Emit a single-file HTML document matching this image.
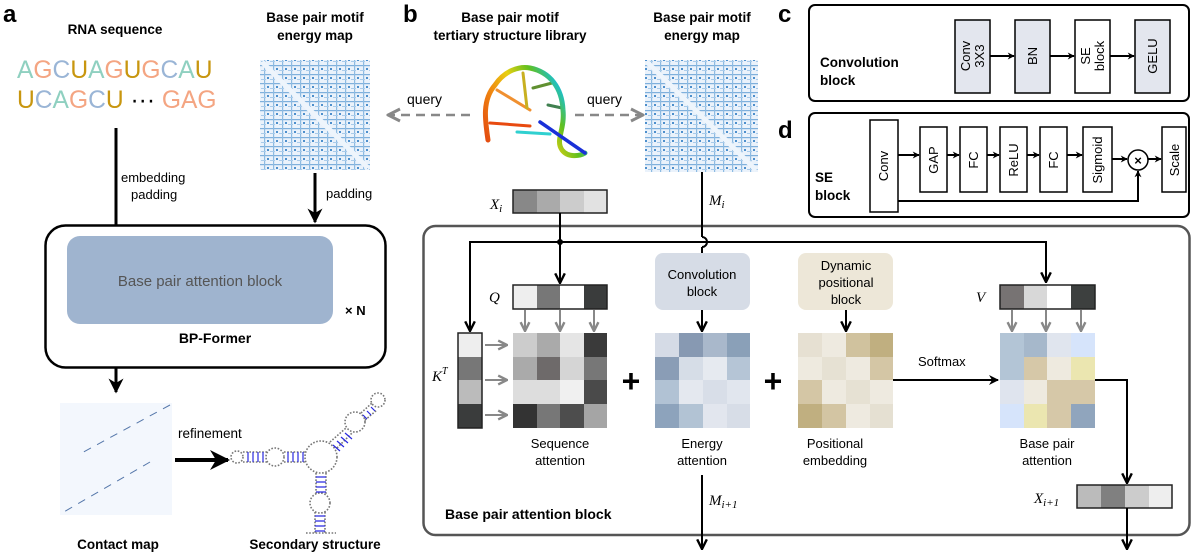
<!DOCTYPE html>
<html><head><meta charset="utf-8"><style>
html,body{margin:0;padding:0;background:#fff;}
svg{display:block;font-family:"Liberation Sans",sans-serif;}
.b{font-weight:bold;}
.m{font-family:"Liberation Serif",serif;font-style:italic;}
</style></head><body>
<svg width="1200" height="553" viewBox="0 0 1200 553" xmlns="http://www.w3.org/2000/svg">
<defs>
<marker id="ah" viewBox="0 0 10 10" refX="9" refY="5" markerWidth="5" markerHeight="5" orient="auto"><path d="M0,0 L10,5 L0,10 L3,5z" fill="#000"/></marker>
<marker id="ahb" viewBox="0 0 10 10" refX="9" refY="5" markerWidth="3.5" markerHeight="3.5" orient="auto"><path d="M0,0 L10,5 L0,10 L3,5z" fill="#000"/></marker>
<marker id="ag" viewBox="0 0 10 10" refX="9" refY="5" markerWidth="6" markerHeight="6" orient="auto"><path d="M1,1 L9,5 L1,9" fill="none" stroke="#888" stroke-width="2"/></marker>
<marker id="ao" viewBox="0 0 10 10" refX="9" refY="5" markerWidth="5.5" markerHeight="5.5" orient="auto"><path d="M1,1 L9,5 L1,9" fill="none" stroke="#888" stroke-width="2.2"/></marker>
<marker id="ak" viewBox="0 0 10 10" refX="9" refY="5" markerWidth="6" markerHeight="6" orient="auto"><path d="M1,1 L9,5 L1,9" fill="none" stroke="#000" stroke-width="2"/></marker>
<pattern id="emap" width="9" height="9" patternUnits="userSpaceOnUse">
<rect width="9" height="9" fill="#eaf2fb"/>
<rect x="0" y="2" width="9" height="1.2" fill="#7fb0dc"/>
<rect x="3" y="0" width="1.2" height="9" fill="#8dbbe2"/>
<rect x="6" y="5" width="2" height="2" fill="#4d8fcc"/>
<rect x="0" y="7" width="5" height="1" fill="#a9cbea"/>
</pattern>
<linearGradient id="rg" x1="0" y1="1" x2="1" y2="0.5">
<stop offset="0" stop-color="#e03a10"/><stop offset="0.35" stop-color="#f08a10"/><stop offset="0.55" stop-color="#e8d010"/><stop offset="0.75" stop-color="#60c020"/><stop offset="0.9" stop-color="#20c0c0"/><stop offset="1" stop-color="#2030d0"/>
</linearGradient>
</defs>

<!-- panel a -->
<text x="3" y="22" font-size="24" class="b">a</text>
<text x="115" y="34" font-size="13.5" class="b" text-anchor="middle">RNA sequence</text>
<text x="17" y="78" font-size="24.6"><tspan fill="#8fd0c0">A</tspan><tspan fill="#f4a582">G</tspan><tspan fill="#9ab5d6">C</tspan><tspan fill="#c8960f">U</tspan><tspan fill="#8fd0c0">A</tspan><tspan fill="#f4a582">G</tspan><tspan fill="#c8960f">U</tspan><tspan fill="#f4a582">G</tspan><tspan fill="#9ab5d6">C</tspan><tspan fill="#8fd0c0">A</tspan><tspan fill="#c8960f">U</tspan></text>
<text x="17" y="108" font-size="24.6"><tspan fill="#c8960f">U</tspan><tspan fill="#9ab5d6">C</tspan><tspan fill="#8fd0c0">A</tspan><tspan fill="#f4a582">G</tspan><tspan fill="#9ab5d6">C</tspan><tspan fill="#c8960f">U</tspan><tspan fill="#000"> ··· </tspan><tspan fill="#f4a582">GAG</tspan></text>
<text x="315" y="22" font-size="13.5" class="b" text-anchor="middle">Base pair motif</text>
<text x="315" y="40" font-size="13.5" class="b" text-anchor="middle">energy map</text>
<rect x="260" y="60" width="110" height="110" fill="url(#emap)"/>
<line x1="262" y1="62" x2="368" y2="168" stroke="#eef5fc" stroke-width="5"/>
<line x1="116" y1="128" x2="116" y2="226" stroke="#000" stroke-width="3"/>
<text x="121" y="182" font-size="13">embedding</text>
<text x="131" y="199" font-size="13">padding</text>
<line x1="315" y1="173" x2="315" y2="222" stroke="#000" stroke-width="3" marker-end="url(#ah)"/>
<text x="326" y="198" font-size="13">padding</text>
<rect x="45.5" y="225.5" width="340" height="142" rx="20" fill="none" stroke="#000" stroke-width="2.5"/>
<rect x="67" y="236" width="266" height="88" rx="13" fill="#9fb4cf"/>
<text x="200" y="286" font-size="15" fill="#555" text-anchor="middle">Base pair attention block</text>
<text x="345" y="315" font-size="13" class="b">× N</text>
<text x="215" y="343" font-size="14" class="b" text-anchor="middle">BP-Former</text>
<line x1="116" y1="368" x2="116" y2="392" stroke="#000" stroke-width="3" marker-end="url(#ah)"/>
<rect x="60" y="403" width="112" height="112" fill="#f3f7fd"/>
<g stroke="#5577aa" stroke-width="1" stroke-dasharray="8,7"><line x1="170" y1="405" x2="78" y2="455"/><line x1="150" y1="462" x2="62" y2="513"/></g>
<text x="178" y="438" font-size="13.5">refinement</text>
<line x1="175" y1="460" x2="228" y2="460" stroke="#000" stroke-width="4" marker-end="url(#ah)"/>
<!-- secondary structure -->
<g fill="none" stroke="#777" stroke-width="1.6" stroke-dasharray="1.6,1.6">
<circle cx="237" cy="457" r="6"/><circle cx="275" cy="457" r="9"/><circle cx="321" cy="457" r="16"/>
<circle cx="320" cy="503" r="10"/><circle cx="355" cy="422" r="10"/><circle cx="378" cy="400" r="7"/>
<path d="M243,452 H267 M243,462 H267 M284,452 H306 M284,462 H306"/>
<path d="M316,473 V494 M326,473 V494 M315,512 V533 M325,512 V533 M306,533 H336"/>
<path d="M330,442 L346,428 M337,448 L352,433 M361,413 L372,403 M365,420 L377,410"/>
</g>
<g stroke="#2a2ae0" stroke-width="1.2">
<path d="M248,452V462 M253,452V462 M258,452V462 M263,452V462 M288,452V462 M293,452V462 M298,452V462 M303,452V462"/>
<path d="M316,477H326 M316,482H326 M316,487H326 M316,492H326 M315,516H325 M315,521H325 M315,526H325 M315,531H325"/>
<path d="M333,445L340,451 M337,441L344,447 M341,437L348,443 M345,433L352,439 M363,415L367,419 M367,411L371,415 M371,407L375,411"/>
</g>
<text x="118" y="549" font-size="13.5" class="b" text-anchor="middle">Contact map</text>
<text x="315" y="549" font-size="13.5" class="b" text-anchor="middle">Secondary structure</text>

<!-- panel b top -->
<text x="403" y="22" font-size="24" class="b">b</text>
<text x="510" y="22" font-size="13.5" class="b" text-anchor="middle">Base pair motif</text>
<text x="510" y="40" font-size="13.5" class="b" text-anchor="middle">tertiary structure library</text>
<text x="702" y="22" font-size="13.5" class="b" text-anchor="middle">Base pair motif</text>
<text x="702" y="40" font-size="13.5" class="b" text-anchor="middle">energy map</text>
<rect x="645" y="60" width="113" height="112" fill="url(#emap)"/>
<line x1="647" y1="62" x2="756" y2="170" stroke="#eef5fc" stroke-width="5"/>
<!-- 3d rna -->
<g fill="none" stroke-linecap="round">
<line x1="490" y1="123" x2="530" y2="126" stroke="#e84a10" stroke-width="3"/>
<line x1="497" y1="90" x2="530" y2="110" stroke="#f09030" stroke-width="3"/>
<line x1="523" y1="73" x2="527" y2="108" stroke="#c8b020" stroke-width="3"/>
<line x1="533" y1="88" x2="552" y2="83" stroke="#609030" stroke-width="3"/>
<line x1="548" y1="105" x2="562" y2="108" stroke="#408050" stroke-width="3"/>
<line x1="517" y1="132" x2="550" y2="134" stroke="#30d0d0" stroke-width="3"/>
<path d="M488,140 C485,120 482,100 495,85 C505,70 520,66 530,68 C550,72 562,88 563,110 C565,130 555,140 562,150 C568,158 580,156 585,153" stroke="url(#rg)" stroke-width="5"/>
<line x1="540" y1="122" x2="585" y2="153" stroke="#1a30d8" stroke-width="3.5"/>
</g>
<line x1="470" y1="115" x2="388" y2="115" stroke="#888" stroke-width="2.5" stroke-dasharray="9,6" marker-end="url(#ag)"/>
<text x="407" y="104" font-size="14">query</text>
<line x1="575" y1="115" x2="643" y2="115" stroke="#888" stroke-width="2.5" stroke-dasharray="9,6" marker-end="url(#ag)"/>
<text x="587" y="104" font-size="14">query</text>

<!-- big block -->
<rect x="423.5" y="226" width="766" height="309" rx="12" fill="none" stroke="#555" stroke-width="2.5"/>
<text x="445" y="519" font-size="14" class="b">Base pair attention block</text>
<!-- Xi -->
<text x="490" y="209" font-size="15" class="m">X<tspan font-size="11" dy="3">i</tspan></text>
<g stroke="none"><rect x="513" y="190" width="24" height="23" fill="#888"/><rect x="537" y="190" width="23" height="23" fill="#aaa"/><rect x="560" y="190" width="24" height="23" fill="#ccc"/><rect x="584" y="190" width="23" height="23" fill="#e2e2e2"/></g>
<rect x="513" y="190" width="94" height="23" fill="none" stroke="#222" stroke-width="1.5"/>
<!-- Mi -->
<line x1="702" y1="172" x2="702" y2="237" stroke="#000" stroke-width="2"/>
<path d="M702,237 a5,5 0 0 1 0,10" fill="none" stroke="#000" stroke-width="2"/>
<line x1="702" y1="247" x2="702" y2="253" stroke="#000" stroke-width="2"/>
<text x="709" y="205" font-size="15" class="m">M<tspan font-size="11" dy="3">i</tspan></text>
<!-- wires -->
<line x1="560" y1="213" x2="560" y2="242" stroke="#000" stroke-width="2"/>
<circle cx="560" cy="242" r="3" fill="#000"/>
<path d="M470,330 V242 H1046 V282" fill="none" stroke="#000" stroke-width="2" marker-end="url(#ak)"/>
<line x1="470" y1="300" x2="470" y2="331" stroke="#000" stroke-width="2" marker-end="url(#ak)"/>
<line x1="560" y1="242" x2="560" y2="283" stroke="#000" stroke-width="2" marker-end="url(#ak)"/>
<!-- Q -->
<text x="489" y="302" font-size="15" class="m">Q</text>
<rect x="513" y="285" width="24" height="24" fill="#eee"/><rect x="537" y="285" width="23" height="24" fill="#777"/><rect x="560" y="285" width="24" height="24" fill="#fff"/><rect x="584" y="285" width="23" height="24" fill="#3a3c3c"/>
<rect x="513" y="285" width="94" height="24" fill="none" stroke="#222" stroke-width="1.5"/>
<g stroke="#888" stroke-width="2" marker-end="url(#ao)"><line x1="525" y1="310" x2="525" y2="331"/><line x1="560" y1="310" x2="560" y2="331"/><line x1="594" y1="310" x2="594" y2="331"/></g>
<!-- K^T -->
<text x="432" y="381" font-size="15" class="m">K<tspan font-size="10" dy="-7">T</tspan></text>
<rect x="458" y="333" width="24" height="24" fill="#eee"/><rect x="458" y="357" width="24" height="23" fill="#777"/><rect x="458" y="380" width="24" height="24" fill="#bbb"/><rect x="458" y="404" width="24" height="24" fill="#3a3c3c"/>
<rect x="458" y="333" width="24" height="95" fill="none" stroke="#222" stroke-width="1.5"/>
<g stroke="#888" stroke-width="2" marker-end="url(#ao)"><line x1="485" y1="345" x2="507" y2="345"/><line x1="485" y1="380" x2="507" y2="380"/><line x1="485" y1="415" x2="507" y2="415"/></g>
<!-- seq attention -->
<g>
<rect x="513" y="333" width="24" height="24" fill="#ccc"/><rect x="537" y="333" width="23" height="24" fill="#aaa"/><rect x="560" y="333" width="24" height="24" fill="#e5e5e5"/><rect x="584" y="333" width="23" height="24" fill="#3a3a3a"/>
<rect x="513" y="357" width="24" height="23" fill="#aaa"/><rect x="537" y="357" width="23" height="23" fill="#6e6a6a"/><rect x="560" y="357" width="24" height="23" fill="#d5d5d5"/><rect x="584" y="357" width="23" height="23" fill="#777"/>
<rect x="513" y="380" width="24" height="24" fill="#ddd"/><rect x="537" y="380" width="23" height="24" fill="#ddd"/><rect x="560" y="380" width="24" height="24" fill="#f0f0f0"/><rect x="584" y="380" width="23" height="24" fill="#4a4a4a"/>
<rect x="513" y="404" width="24" height="24" fill="#333"/><rect x="537" y="404" width="23" height="24" fill="#777"/><rect x="560" y="404" width="24" height="24" fill="#4d4d4d"/><rect x="584" y="404" width="23" height="24" fill="#a5a5a5"/>
</g>
<text x="560" y="448" font-size="13" text-anchor="middle">Sequence</text>
<text x="560" y="465" font-size="13" text-anchor="middle">attention</text>
<text x="631" y="392" font-size="32" class="b" text-anchor="middle">+</text>
<!-- conv block -->
<rect x="655" y="253" width="95" height="57" rx="8" fill="#d6dce6"/>
<text x="702" y="279" font-size="13" text-anchor="middle">Convolution</text>
<text x="702" y="296" font-size="13" text-anchor="middle">block</text>
<line x1="702" y1="310" x2="702" y2="331" stroke="#000" stroke-width="2" marker-end="url(#ak)"/>
<g>
<rect x="655" y="333" width="24" height="24" fill="#d5dbe6"/><rect x="679" y="333" width="24" height="24" fill="#8799b2"/><rect x="703" y="333" width="24" height="24" fill="#a9b8cb"/><rect x="727" y="333" width="23" height="24" fill="#8aa0b8"/>
<rect x="655" y="357" width="24" height="23" fill="#8a9db6"/><rect x="679" y="357" width="24" height="23" fill="#d6dde7"/><rect x="703" y="357" width="24" height="23" fill="#e6eaf0"/><rect x="727" y="357" width="23" height="23" fill="#b5c5d6"/>
<rect x="655" y="380" width="24" height="24" fill="#b1c2d4"/><rect x="679" y="380" width="24" height="24" fill="#e4e8ef"/><rect x="703" y="380" width="24" height="24" fill="#d8dee8"/><rect x="727" y="380" width="23" height="24" fill="#e1e6ee"/>
<rect x="655" y="404" width="24" height="24" fill="#8da3bc"/><rect x="679" y="404" width="24" height="24" fill="#b2c3d4"/><rect x="703" y="404" width="24" height="24" fill="#e2e6ee"/><rect x="727" y="404" width="23" height="24" fill="#d7dde7"/>
</g>
<text x="702" y="448" font-size="13" text-anchor="middle">Energy</text>
<text x="702" y="465" font-size="13" text-anchor="middle">attention</text>
<line x1="702" y1="475" x2="702" y2="549" stroke="#000" stroke-width="2" marker-end="url(#ak)"/>
<text x="709" y="505" font-size="15" class="m">M<tspan font-size="11" dy="3">i+1</tspan></text>
<text x="773" y="392" font-size="32" class="b" text-anchor="middle">+</text>
<!-- dynamic positional -->
<rect x="798" y="253" width="95" height="57" rx="8" fill="#ede7d8"/>
<text x="846" y="270" font-size="13" text-anchor="middle">Dynamic</text>
<text x="846" y="287" font-size="13" text-anchor="middle">positional</text>
<text x="846" y="304" font-size="13" text-anchor="middle">block</text>
<line x1="846" y1="310" x2="846" y2="331" stroke="#000" stroke-width="2" marker-end="url(#ak)"/>
<g>
<rect x="798" y="333" width="24" height="24" fill="#e6e0d2"/><rect x="822" y="333" width="24" height="24" fill="#eeeae0"/><rect x="846" y="333" width="24" height="24" fill="#d0c29e"/><rect x="870" y="333" width="23" height="24" fill="#c0af80"/>
<rect x="798" y="357" width="24" height="23" fill="#eeeadf"/><rect x="822" y="357" width="24" height="23" fill="#e6e1d3"/><rect x="846" y="357" width="24" height="23" fill="#eeeae0"/><rect x="870" y="357" width="23" height="23" fill="#d4c6a5"/>
<rect x="798" y="380" width="24" height="24" fill="#d4c6a5"/><rect x="822" y="380" width="24" height="24" fill="#eeeae0"/><rect x="846" y="380" width="24" height="24" fill="#e6e1d3"/><rect x="870" y="380" width="23" height="24" fill="#eeeae0"/>
<rect x="798" y="404" width="24" height="24" fill="#c0af80"/><rect x="822" y="404" width="24" height="24" fill="#d3c5a3"/><rect x="846" y="404" width="24" height="24" fill="#eeeae0"/><rect x="870" y="404" width="23" height="24" fill="#e5e0d2"/>
</g>
<text x="835" y="448" font-size="13" text-anchor="middle">Positional</text>
<text x="835" y="465" font-size="13" text-anchor="middle">embedding</text>
<text x="918" y="366" font-size="13">Softmax</text>
<line x1="893" y1="380" x2="998" y2="380" stroke="#000" stroke-width="2" marker-end="url(#ah)"/>
<!-- V -->
<text x="976" y="302" font-size="15" class="m">V</text>
<rect x="1000" y="285" width="24" height="24" fill="#777373"/><rect x="1024" y="285" width="23" height="24" fill="#d8d8d8"/><rect x="1047" y="285" width="24" height="24" fill="#fff"/><rect x="1071" y="285" width="24" height="24" fill="#3d403f"/>
<rect x="1000" y="285" width="95" height="24" fill="none" stroke="#222" stroke-width="1.5"/>
<g stroke="#888" stroke-width="2" marker-end="url(#ao)"><line x1="1012" y1="310" x2="1012" y2="331"/><line x1="1046" y1="310" x2="1046" y2="331"/><line x1="1081" y1="310" x2="1081" y2="331"/></g>
<g>
<rect x="1000" y="333" width="24" height="24" fill="#b3c5d6"/><rect x="1024" y="333" width="23" height="24" fill="#a6b8cb"/><rect x="1047" y="333" width="24" height="24" fill="#e0e5ee"/><rect x="1071" y="333" width="24" height="24" fill="#d6e4fb"/>
<rect x="1000" y="357" width="24" height="23" fill="#b3c5d6"/><rect x="1024" y="357" width="23" height="23" fill="#d6c8a8"/><rect x="1047" y="357" width="24" height="23" fill="#eeeadf"/><rect x="1071" y="357" width="24" height="23" fill="#ebe6b0"/>
<rect x="1000" y="380" width="24" height="24" fill="#dfe4ee"/><rect x="1024" y="380" width="23" height="24" fill="#eeeadf"/><rect x="1047" y="380" width="24" height="24" fill="#d6c8a8"/><rect x="1071" y="380" width="24" height="24" fill="#d6c8a8"/>
<rect x="1000" y="404" width="24" height="24" fill="#d6e4fb"/><rect x="1024" y="404" width="23" height="24" fill="#ebe6b0"/><rect x="1047" y="404" width="24" height="24" fill="#d6c8a8"/><rect x="1071" y="404" width="24" height="24" fill="#90a5bd"/>
</g>
<text x="1047" y="448" font-size="13" text-anchor="middle">Base pair</text>
<text x="1047" y="465" font-size="13" text-anchor="middle">attention</text>
<path d="M1095,380 H1127 V483" fill="none" stroke="#000" stroke-width="2" marker-end="url(#ak)"/>
<text x="1034" y="503" font-size="15" class="m">X<tspan font-size="11" dy="3">i+1</tspan></text>
<rect x="1077" y="485" width="24" height="23" fill="#bbb"/><rect x="1101" y="485" width="24" height="23" fill="#808080"/><rect x="1125" y="485" width="24" height="23" fill="#ccc"/><rect x="1149" y="485" width="23" height="23" fill="#eee"/>
<rect x="1077" y="485" width="95" height="23" fill="none" stroke="#222" stroke-width="1.5"/>
<line x1="1127" y1="508" x2="1127" y2="549" stroke="#000" stroke-width="2" marker-end="url(#ak)"/>

<!-- panel c -->
<text x="778" y="22" font-size="24" class="b">c</text>
<rect x="809" y="5" width="380" height="96" rx="6" fill="none" stroke="#000" stroke-width="2"/>
<text x="820" y="67" font-size="13.5" class="b">Convolution</text>
<text x="820" y="85" font-size="13.5" class="b">block</text>
<g stroke="#000" stroke-width="1.5">
<rect x="955" y="20" width="35" height="73" fill="#e3e6ee"/>
<rect x="1015" y="20" width="35" height="73" fill="#e3e6ee"/>
<rect x="1075" y="20" width="35" height="73" fill="#fff"/>
<rect x="1135" y="20" width="35" height="73" fill="#e3e6ee"/>
</g>
<g stroke="#000" stroke-width="2" marker-end="url(#ahb)"><line x1="990" y1="56" x2="1014" y2="56"/><line x1="1050" y1="56" x2="1074" y2="56"/><line x1="1110" y1="56" x2="1134" y2="56"/></g>
<g font-size="13" text-anchor="middle">
<text transform="translate(972,56) rotate(-90)" y="-2">Conv</text>
<text transform="translate(972,56) rotate(-90)" y="12">3X3</text>
<text transform="translate(1037,56) rotate(-90)">BN</text>
<text transform="translate(1092,56) rotate(-90)" y="-2">SE</text>
<text transform="translate(1092,56) rotate(-90)" y="12">block</text>
<text transform="translate(1157,56) rotate(-90)">GELU</text>
</g>

<!-- panel d -->
<text x="778" y="138" font-size="24" class="b">d</text>
<rect x="809" y="113" width="380" height="104" rx="6" fill="none" stroke="#000" stroke-width="2"/>
<text x="815" y="182" font-size="13.5" class="b">SE</text>
<text x="815" y="200" font-size="13.5" class="b">block</text>
<g stroke="#000" stroke-width="1.5" fill="#fff">
<rect x="870" y="120" width="28" height="92"/>
<rect x="920" y="127" width="27" height="65"/>
<rect x="960" y="127" width="27" height="65"/>
<rect x="1000" y="127" width="27" height="65"/>
<rect x="1040" y="127" width="27" height="65"/>
<rect x="1083" y="127" width="29" height="65"/>
<rect x="1162" y="127" width="24" height="65"/>
<circle cx="1138" cy="160" r="10"/>
</g>
<text x="1138" y="165" font-size="13" text-anchor="middle" class="b">×</text>
<g stroke="#000" stroke-width="2" marker-end="url(#ahb)" fill="none">
<line x1="898" y1="155" x2="919" y2="155"/><line x1="947" y1="155" x2="959" y2="155"/><line x1="987" y1="155" x2="999" y2="155"/><line x1="1027" y1="155" x2="1039" y2="155"/><line x1="1067" y1="155" x2="1082" y2="155"/><line x1="1112" y1="159" x2="1127" y2="159"/><line x1="1148" y1="159" x2="1161" y2="159"/>
<path d="M898,201 H1138 V171"/>
</g>
<g font-size="13" text-anchor="middle">
<text transform="translate(888,166) rotate(-90)">Conv</text>
<text transform="translate(938,160) rotate(-90)">GAP</text>
<text transform="translate(978,160) rotate(-90)">FC</text>
<text transform="translate(1018,160) rotate(-90)">ReLU</text>
<text transform="translate(1058,160) rotate(-90)">FC</text>
<text transform="translate(1102,160) rotate(-90)">Sigmoid</text>
<text transform="translate(1179,160) rotate(-90)">Scale</text>
</g>
</svg>
</body></html>
